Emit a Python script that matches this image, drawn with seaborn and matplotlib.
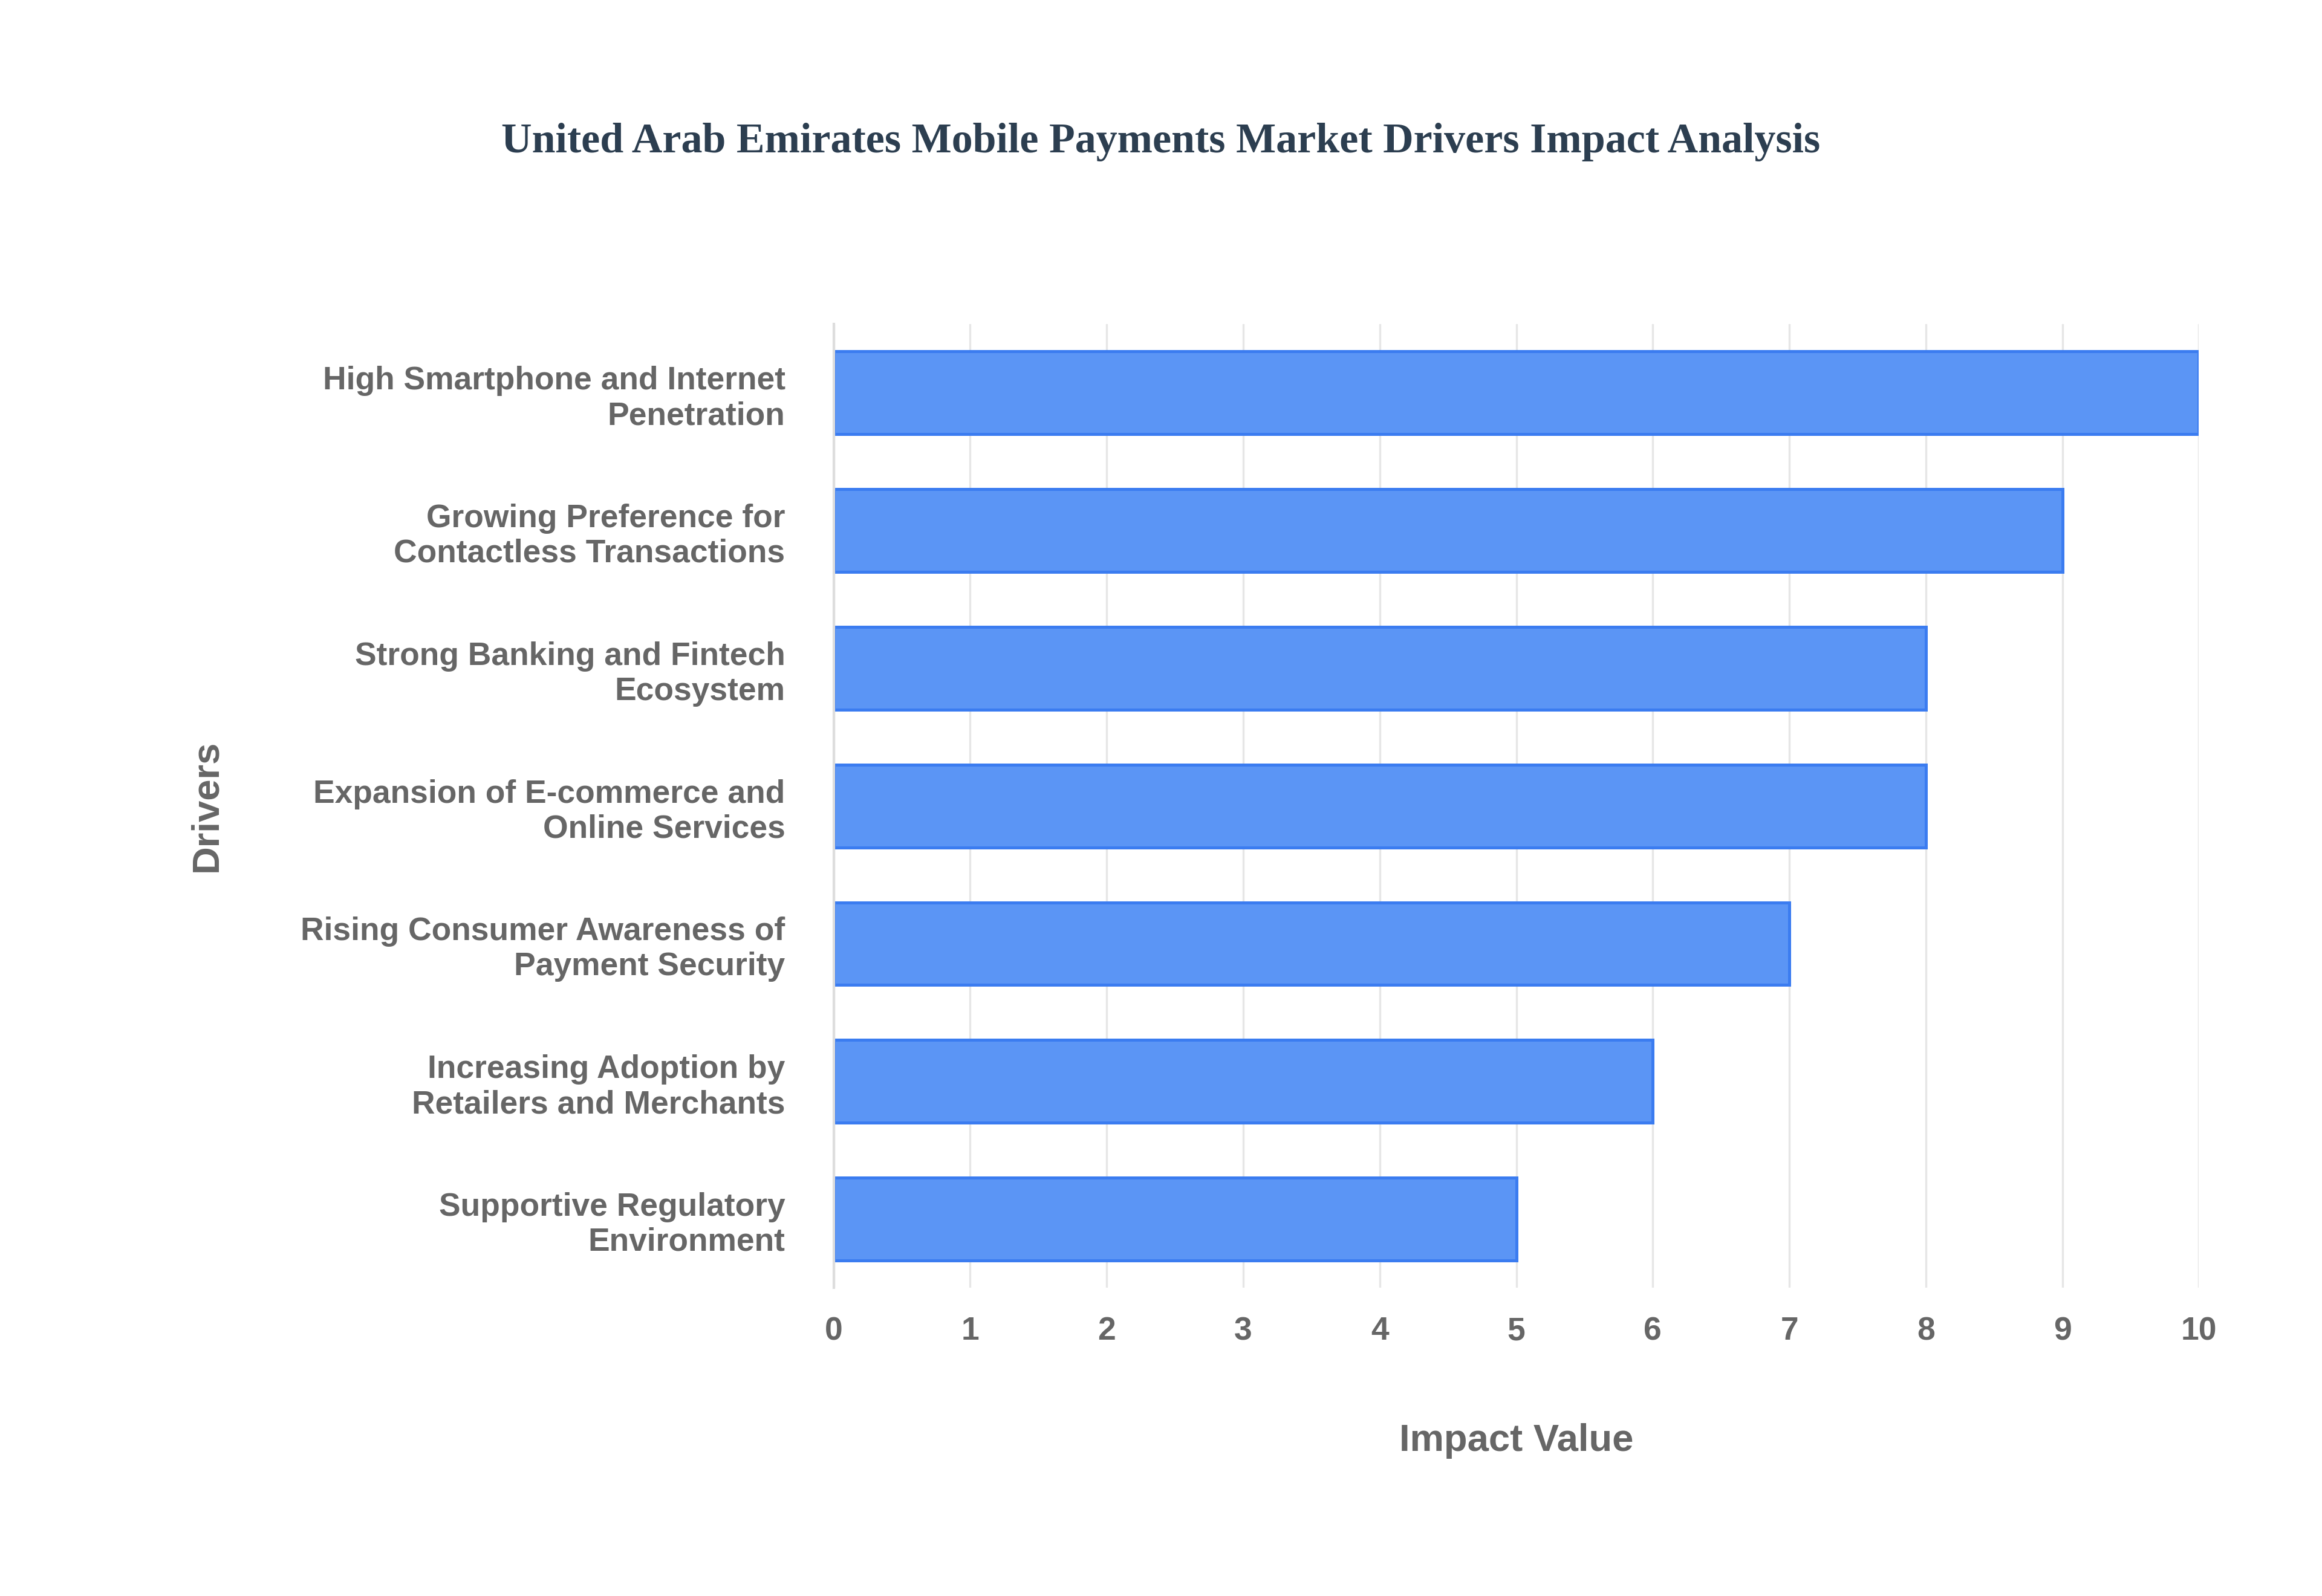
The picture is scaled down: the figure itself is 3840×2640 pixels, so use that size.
import matplotlib
matplotlib.use("Agg")
import matplotlib.pyplot as plt
import seaborn as sns
import pandas as pd

drivers = [
    "High Smartphone and Internet\nPenetration",
    "Growing Preference for\nContactless Transactions",
    "Strong Banking and Fintech\nEcosystem",
    "Expansion of E-commerce and\nOnline Services",
    "Rising Consumer Awareness of\nPayment Security",
    "Increasing Adoption by\nRetailers and Merchants",
    "Supportive Regulatory\nEnvironment",
]
impact = [10, 9, 8, 8, 7, 6, 5]

df = pd.DataFrame({"Drivers": drivers, "Impact Value": impact})

sns.set_theme(style="white")
plt.rcParams['font.family'] = ['Liberation Sans', 'DejaVu Sans']

fig = plt.figure(figsize=(16, 11), dpi=240)
ax = fig.add_axes([0.359, 0.193, 0.588, 0.604])

sns.barplot(data=df, x="Impact Value", y="Drivers", orient="h", width=0.6,
            color="#5b95f5", edgecolor="#3b7cf0", linewidth=1.5, saturation=1,
            ax=ax)

ax.set_xlim(0, 10)
ax.set_ylim(6.5, -0.5)
ax.set_xticks(range(0, 11))
ax.grid(axis="x", color="#e6e6e6", linewidth=1)
ax.set_axisbelow(True)
for s in ["top", "right", "bottom"]:
    ax.spines[s].set_visible(False)
ax.spines["left"].set_color("#dddddd")
ax.tick_params(axis="both", length=0, colors="#666666", labelsize=16)
ax.tick_params(axis="x", pad=14)
ax.tick_params(axis="y", pad=24)
for t in ax.get_xticklabels() + ax.get_yticklabels():
    t.set_fontweight("bold")

ax.set_xlabel("Impact Value", fontsize=19, fontweight="bold", color="#666666", labelpad=38)
ax.set_ylabel("Drivers", fontsize=19, fontweight="bold", color="#666666", labelpad=38)

fig.text(0.5, 0.911, "United Arab Emirates Mobile Payments Market Drivers Impact Analysis",
         ha="center", va="center", fontsize=21, fontweight="bold",
         color="#2c3e50", family=["Liberation Serif", "DejaVu Serif"])

fig.savefig("out.png", dpi=240, facecolor="white")
